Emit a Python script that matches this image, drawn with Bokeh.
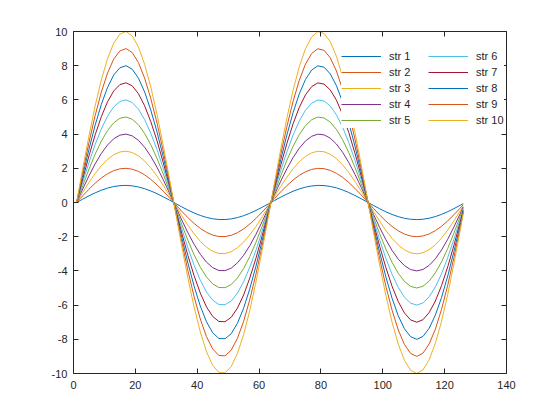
from bokeh.plotting import figure
from bokeh.models import LinearAxis, FixedTicker, Legend, LegendItem, Range1d
from bokeh.embed import file_html
from bokeh.resources import INLINE

# sample positions (index of the MATLAB vector) and the shape of "str 1"
x_vals = list(range(1, 126, 2)) + [126]
base = [0.000, 0.199, 0.389, 0.565, 0.717, 0.841, 0.932, 0.985, 1.000, 0.974,
        0.909, 0.808, 0.675, 0.516, 0.335, 0.141, -0.058, -0.256, -0.443, -0.612,
        -0.757, -0.872, -0.952, -0.994, -0.996, -0.959, -0.883, -0.773, -0.631, -0.465,
        -0.279, -0.083, 0.117, 0.312, 0.494, 0.657, 0.794, 0.899, 0.968, 0.999,
        0.989, 0.941, 0.855, 0.735, 0.585, 0.412, 0.223, 0.025, -0.174, -0.366,
        -0.544, -0.700, -0.828, -0.923, -0.981, -1.000, -0.979, -0.919, -0.823, -0.694,
        -0.537, -0.358, -0.166, -0.066]
amplitudes = [1, 2, 3, 4, 5, 6, 7, 8, 9, 10]
names = ["str 1", "str 2", "str 3", "str 4", "str 5",
         "str 6", "str 7", "str 8", "str 9", "str 10"]
colors = ["#0072BD", "#D95319", "#EDB120", "#7E2F8E", "#77AC30",
          "#4DBEEE", "#A2142F", "#0072BD", "#D95319", "#EDB120"]
x_ticks = [0, 20, 40, 60, 80, 100, 120, 140]
y_ticks = [-10, -8, -6, -4, -2, 0, 2, 4, 6, 8, 10]

FONT = "Liberation Sans"
INK = "#262626"

p = figure(width=552, height=412, output_backend="svg", toolbar_location=None,
           x_range=Range1d(0, 140), y_range=Range1d(-10, 10),
           min_border_left=73, min_border_right=46, min_border_top=31, min_border_bottom=39)
p.outline_line_color = None
p.xgrid.visible = False
p.ygrid.visible = False
p.background_fill_color = "white"
p.border_fill_color = "white"

renderers = []
for a, c in zip(amplitudes, colors):
    ys = [a * b for b in base]
    r = p.line(x_vals, ys, line_color=c, line_width=1)
    renderers.append(r)

def style(ax, ticks, labels=True, standoff=6):
    ax.ticker = FixedTicker(ticks=ticks)
    ax.axis_line_color = INK
    ax.axis_line_width = 1
    ax.major_tick_line_color = INK
    ax.major_tick_in = 5
    ax.major_tick_out = 0
    ax.minor_tick_line_color = None
    ax.major_label_text_font = FONT
    ax.major_label_text_font_size = "11px"
    ax.major_label_text_color = INK if labels else None
    ax.major_label_standoff = standoff
    ax.major_label_overrides = {t: str(t) for t in ticks}

style(p.xaxis[0], x_ticks, True, 7)
style(p.yaxis[0], y_ticks, True, 6)
top = LinearAxis()
right = LinearAxis()
style(top, x_ticks, False)
style(right, y_ticks, False)
p.add_layout(top, "above")
p.add_layout(right, "right")

def make_legend(items, loc):
    lg = Legend(items=items, location=loc, orientation="vertical",
                glyph_width=40, glyph_height=16, label_height=16, spacing=0,
                label_standoff=8, padding=3, margin=0,
                border_line_color=None, background_fill_color="white",
                background_fill_alpha=1.0,
                label_text_font=FONT, label_text_font_size="11px",
                label_text_color=INK)
    return lg

items1 = [LegendItem(label=names[i], renderers=[renderers[i]]) for i in range(5)]
items2 = [LegendItem(label=names[i], renderers=[renderers[i]]) for i in range(5, 10)]
p.add_layout(make_legend(items1, (268, 245)), "center")
p.add_layout(make_legend(items2, (355, 245)), "center")

open("out.html", "w").write(file_html(p, INLINE))
